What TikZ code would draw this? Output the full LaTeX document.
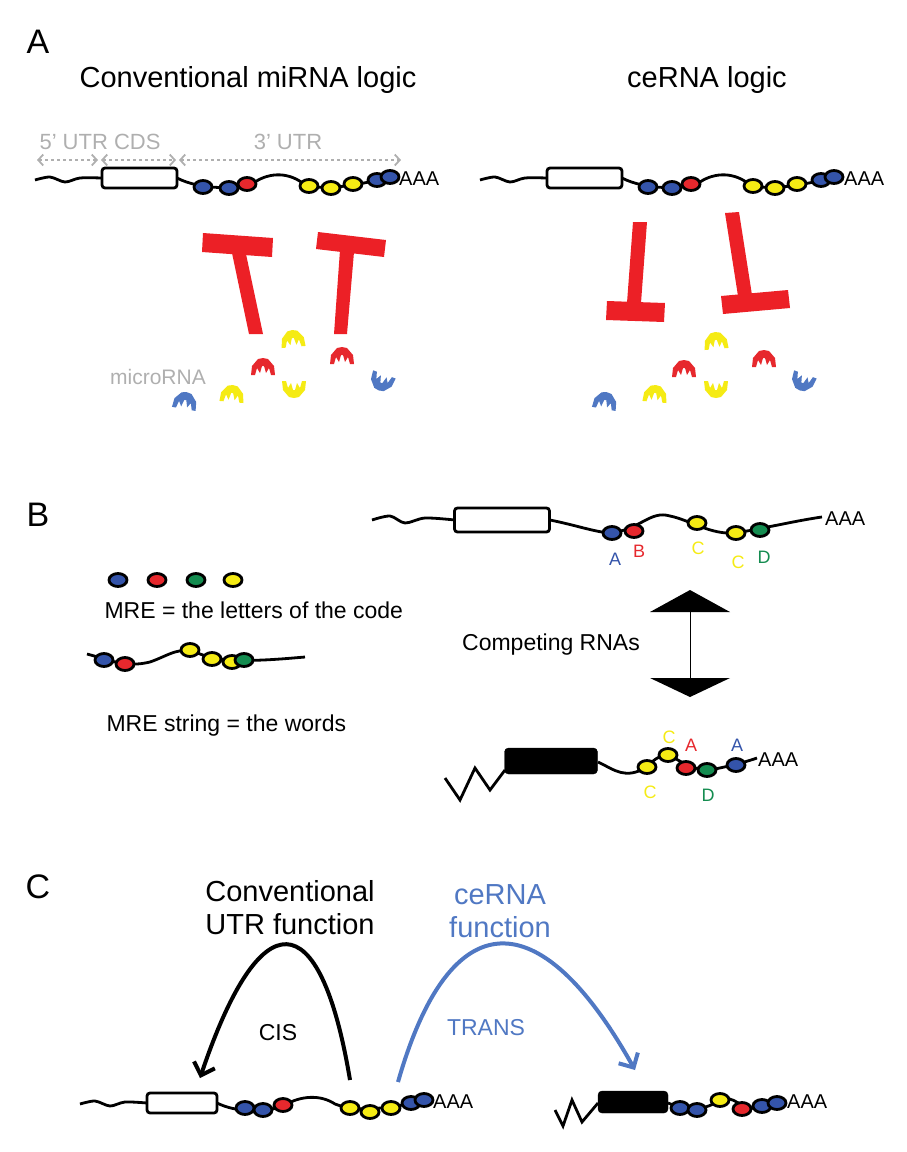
\documentclass[tikz,border=0pt]{standalone}
\usepackage{fontspec}
\setmainfont{Liberation Sans}
\usetikzlibrary{shapes.geometric,arrows.meta}
\definecolor{mb}{RGB}{52,84,170}
\definecolor{mr}{RGB}{230,40,45}
\definecolor{my}{RGB}{245,235,20}
\definecolor{mg}{RGB}{20,140,80}
\definecolor{tr}{RGB}{236,32,38}
\definecolor{lb}{RGB}{80,120,195}
\definecolor{gy}{RGB}{175,175,175}
\newcommand{\fs}[1]{\fontsize{#1}{#1}\selectfont}
\tikzset{
 bead/.style={ellipse,draw=black,line width=2.8pt,minimum width=18pt,minimum height=13pt,inner sep=0pt,fill=#1},
 rna/.style={line width=2.8pt,black},
 cds/.style={draw=black,line width=2.8pt,rounded corners=3pt,fill=white},
 cdsb/.style={draw=black,fill=black,rounded corners=4pt},
 lab/.style={font=\fs{18}},
 utr/.style={gy,line width=1.8pt,dashed,{Straight Barb[length=5pt,width=11pt]}-{Straight Barb[length=5pt,width=11pt]}},
 mir/.pic={\fill[#1] (-12,7)--(-11,-2)--(-5,-9)--(0,-10)--(5,-9)--(11,-2)--(12,7)--(8,7)--(6,0)--(3,5)--(1,-2)--(-1,-2)--(-3,5)--(-6,0)--(-8,7)--cycle;}
}
\begin{document}
\begin{tikzpicture}[x=1pt,y=-1pt]
\useasboundingbox (0,0) rectangle (907,1152);
% ---------- A
\node[font=\fs{34}] (la) at (38,42) {A};
\node[font=\fs{29}] (t1) at (248,80) {Conventional miRNA logic};
\node[font=\fs{29}] (t2) at (707,80) {ceRNA logic};
\node[gy,font=\fs{22},anchor=west] (u1) at (36,142) {5’ UTR CDS};
\node[gy,font=\fs{22}] (u2) at (288,142) {3’ UTR};
\draw[utr] (37,160)--(98,160);
\draw[utr] (101,160)--(176,160);
\draw[utr] (179,160)--(401,160);
% left mRNA
\draw[rna] plot[smooth] coordinates {(35,180)(50,177)(65,182)(80,178)(102,178)};
\draw[rna] (177,178) .. controls (200,190) and (240,190) .. (255,182) .. controls (270,172) and (290,172) .. (305,185) .. controls (330,192) and (370,182) .. (395,176);
\node[cds,minimum width=75pt,minimum height=20pt] (c1) at (139.5,178) {};
\foreach \x/\y/\c in {203/187/mb,229/188/mb,247/184/mr,309/186/my,331/188/my,353/184/my,377/180/mb,390/177/mb}
  \node[bead=\c] at (\x,\y) {};
\node[font=\fs{20},anchor=west,inner sep=0] (aaa1) at (399,179) {AAA};
% right mRNA
\draw[rna] plot[smooth] coordinates {(480,180)(495,177)(510,182)(525,178)(547,178)};
\draw[rna] (622,178) .. controls (645,190) and (685,190) .. (700,182) .. controls (715,172) and (735,172) .. (750,185) .. controls (775,192) and (815,182) .. (840,176);
\node[cds,minimum width=75pt,minimum height=20pt] (c2) at (584.5,178) {};
\foreach \x/\y/\c in {648/187/mb,672/188/mb,691/184/mr,753/186/my,775/188/my,797/184/my,821/180/mb,834/177/mb}
  \node[bead=\c] at (\x,\y) {};
\node[font=\fs{20},anchor=west,inner sep=0] (aaa2) at (844,179) {AAA};
% red T bars
\fill[tr] (203,233)--(273,238)--(272,257)--(202,252)--cycle;
\fill[tr] (232,253)--(246,254)--(263,334)--(249,334)--cycle;
\fill[tr] (318,232)--(386,240)--(384,257)--(316,249)--cycle;
\fill[tr] (340,250)--(354,252)--(347,334)--(334,334)--cycle;
\fill[tr] (633,222)--(647,222)--(641,303)--(627,303)--cycle;
\fill[tr] (607,301)--(665,303)--(664,322)--(606,320)--cycle;
\fill[tr] (725,213)--(739,212)--(752,295)--(738,296)--cycle;
\fill[tr] (721,296)--(788,290)--(790,308)--(723,314)--cycle;
\node[gy,font=\fs{21}] (mi) at (158,377) {microRNA};
\foreach \x/\y/\c/\r in {185/402/lb/-10,232/395/my/-5,263/368/mr/0,293/340/my/5,294/388/my/180,342/357/mr/0,382/381/lb/160,
 605/402/lb/-10,655/395/my/-5,684/370/mr/0,716/342/my/5,716/388/my/180,764/360/mr/0,803/381/lb/160}
  \pic[rotate=\r] at (\x,\y) {mir=\c};
% ---------- B
\node[font=\fs{34}] (lb) at (38,515) {B};
\draw[rna] plot[smooth] coordinates {(372,520)(390,516)(405,523)(425,518)(455,520)};
\draw[rna] (550,520) .. controls (575,525) and (595,532) .. (610,533) .. controls (640,530) and (650,510) .. (670,516) .. controls (690,520) and (710,535) .. (736,533) .. controls (770,527) and (800,520) .. (822,517);
\node[cds,minimum width=95pt,minimum height=24pt] (c3) at (502,520) {};
\foreach \x/\y/\c in {612/533/mb,634/531/mr,697/523/my,736/533/my,760/530/mg}
  \node[bead=\c] at (\x,\y) {};
\node[font=\fs{20},anchor=west,inner sep=0] (aaa3) at (825,519) {AAA};
\node[lab,mb] at (615,559) {A};
\node[lab,mr] at (639,551) {B};
\node[lab,my] at (698,548) {C};
\node[lab,my] at (738,562) {C};
\node[lab,mg] at (764,557) {D};
\coordinate (up) at (690,612);
\coordinate (dn) at (690,678);
\fill (690,590)--(730,612)--(650,612)--cycle;
\fill (690,697)--(730,678)--(650,678)--cycle;
\draw[line width=0.8pt] (up)--(dn);
\node[font=\fs{23}] (comp) at (551,645) {Competing RNAs};
\foreach \x/\c in {118/mb,157/mr,196/mg,233/my}
  \node[bead=\c] at (\x,580) {};
\node[font=\fs{23},anchor=west] (mre1) at (101,610) {MRE = the letters of the code};
\draw[rna] (87,654) .. controls (110,660) and (125,668) .. (150,662) .. controls (170,655) and (180,645) .. (200,654) .. controls (225,664) and (270,660) .. (305,657);
\foreach \x/\y/\c in {104/660/mb,125/664/mr,190/650/my,212/659/my,232/662/my,244/660/mg}
  \node[bead=\c] at (\x,\y) {};
\node[font=\fs{23},anchor=west] (mre2) at (103,726) {MRE string = the words};
% bottom competing RNA
\draw[rna] (445,778)--(460,800)--(475,768)--(490,790)--(505,770);
\node[cdsb,minimum width=93pt,minimum height=26pt] (c4) at (551,761) {};
\draw[rna] (598,762) .. controls (615,770) and (625,780) .. (647,767) .. controls (655,758) and (662,754) .. (670,756) .. controls (680,760) and (690,770) .. (710,770) .. controls (720,768) and (740,764) .. (757,758);
\foreach \x/\y/\c in {647/767/my,668/755/my,686/768/mr,707/770/mg,736/765/mb}
  \node[bead=\c] at (\x,\y) {};
\node[font=\fs{20},anchor=west,inner sep=0] (aaa4) at (758,760) {AAA};
\node[lab,my] at (669,737) {C};
\node[lab,mr] at (691,745) {A};
\node[lab,mb] at (737,745) {A};
\node[lab,my] at (650,792) {C};
\node[lab,mg] at (708,795) {D};
% ---------- C
\node[font=\fs{34}] (lc) at (38,887) {C};
\node[font=\fs{29},align=center] (f1) at (290,908) {Conventional\\[4pt]UTR function};
\node[font=\fs{29},align=center,lb] (f2) at (500,911) {ceRNA\\[4pt]function};
\coordinate (cisA) at (350,1080);
\coordinate (cisB) at (200,1078);
\draw[line width=4pt,-{Straight Barb[length=11pt,width=22pt]}] (cisA) .. controls (320,900) and (260,900) .. (cisB);
\node[font=\fs{23}] (cis) at (278,1033) {CIS};
\coordinate (trA) at (398,1082);
\coordinate (trB) at (635,1070);
\draw[lb,line width=4pt,-{Straight Barb[length=11pt,width=22pt]}] (trA) .. controls (450,900) and (540,900) .. (trB);
\node[font=\fs{23},lb] (trans) at (486,1028) {TRANS};
% bottom left mRNA
\draw[rna] plot[smooth] coordinates {(80,1104)(95,1101)(110,1106)(125,1102)(147,1103)};
\draw[rna] (217,1103) .. controls (235,1112) and (265,1114) .. (285,1105) .. controls (300,1096) and (320,1094) .. (335,1104) .. controls (360,1114) and (400,1106) .. (428,1100);
\node[cds,minimum width=70pt,minimum height=20pt] (c5) at (182,1103) {};
\foreach \x/\y/\c in {245/1108/mb,263/1110/mb,283/1105/mr,350/1108/my,370/1112/my,391/1108/my,411/1103/mb,424/1100/mb}
  \node[bead=\c] at (\x,\y) {};
\node[font=\fs{20},anchor=west,inner sep=0] (aaa5) at (433,1102) {AAA};
% bottom right mRNA
\draw[rna] (555,1110)--(563,1126)--(572,1100)--(582,1122)--(598,1103);
\node[cdsb,minimum width=70pt,minimum height=22pt] (c6) at (633,1102) {};
\draw[rna] (668,1103) .. controls (690,1112) and (705,1110) .. (720,1100) .. controls (735,1094) and (740,1110) .. (755,1108) .. controls (765,1106) and (775,1103) .. (785,1102);
\foreach \x/\y/\c in {680/1108/mb,697/1110/mb,720/1100/my,742/1109/mr,762/1106/mb,777/1103/mb}
  \node[bead=\c] at (\x,\y) {};
\node[font=\fs{20},anchor=west,inner sep=0] (aaa6) at (787,1102) {AAA};
\end{tikzpicture}
\end{document}
